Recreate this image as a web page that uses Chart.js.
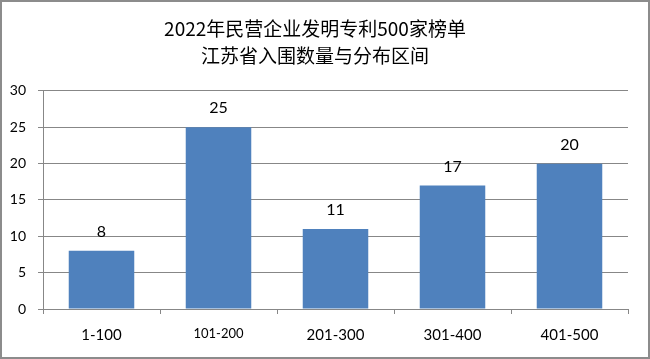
<!DOCTYPE html>
<html>
<head>
<meta charset="utf-8">
<script src="https://cdn.jsdelivr.net/npm/chart.js@4"></script>
<style>
  html, body { margin: 0; padding: 0; background: #fff; }
  #box { width: 650px; height: 359px; box-sizing: border-box; border: 2px solid #8c8c8c; }
  #box canvas { display: block; }
</style>
</head>
<body>
<div id="box"><canvas id="rankChart" width="646" height="355"></canvas></div>
<script>
// 江苏省入围数量
const ranges = ['1-100', '101-200', '201-300', '301-400', '401-500'];
const counts = [8, 25, 11, 17, 20];
const yTicks = [0, 5, 10, 15, 20, 25, 30];
const titleLines = ['2022年民营企业发明专利500家榜单', '江苏省入围数量与分布区间'];

// draw the numbers above each bar
const valueLabels = {
    id: 'valueLabels',
    afterDatasetsDraw(chart) {
        const c = chart.ctx;
        const meta = chart.getDatasetMeta(0);
        c.save();
        c.font = '16px Lato';
        c.fillStyle = '#000';
        c.textAlign = 'center';
        c.textBaseline = 'middle';
        meta.data.forEach(function(bar, i) {
            c.fillText(String(counts[i]), bar.x, bar.y - 19);
        });
        c.restore();
    }
};

document.addEventListener('DOMContentLoaded', function() {
    const ctx = document.getElementById('rankChart');
    new Chart(ctx, {
        type: 'bar',
        data: {
            labels: ranges,
            datasets: [{
                data: counts,
                backgroundColor: '#4F81BD',
                barPercentage: 0.56,
                categoryPercentage: 1
            }]
        },
        options: {
            responsive: false,
            animation: false,
            layout: { padding: { left: 0, right: 20, top: 0, bottom: 1 } },
            plugins: {
                legend: { display: false },
                tooltip: { enabled: false },
                title: {
                    display: true,
                    text: titleLines,
                    color: '#000',
                    font: { family: '"Noto Sans CJK SC"', size: 19, weight: 'normal', lineHeight: 1.42 },
                    padding: { top: 13, bottom: 22 }
                }
            },
            scales: {
                y: {
                    min: 0,
                    max: 30,
                    afterBuildTicks: function(s) { s.ticks = yTicks.map(v => ({ value: v })); },
                    afterFit: function(s) { s.width = 41; },
                    grid: { color: '#878787', tickLength: 5, lineWidth: 1 },
                    border: { color: '#878787' },
                    ticks: { color: '#000', padding: 12, font: { family: 'Lato', size: 14 } }
                },
                x: {
                    grid: { drawOnChartArea: false, color: '#878787', tickLength: 5 },
                    border: { color: '#878787' },
                    ticks: {
                        color: '#000',
                        padding: 12,
                        font: function(c) { return { family: 'Lato', size: c.index === 1 ? 13 : 15 }; }
                    }
                }
            }
        },
        plugins: [valueLabels]
    });
});
</script>
</body>
</html>
